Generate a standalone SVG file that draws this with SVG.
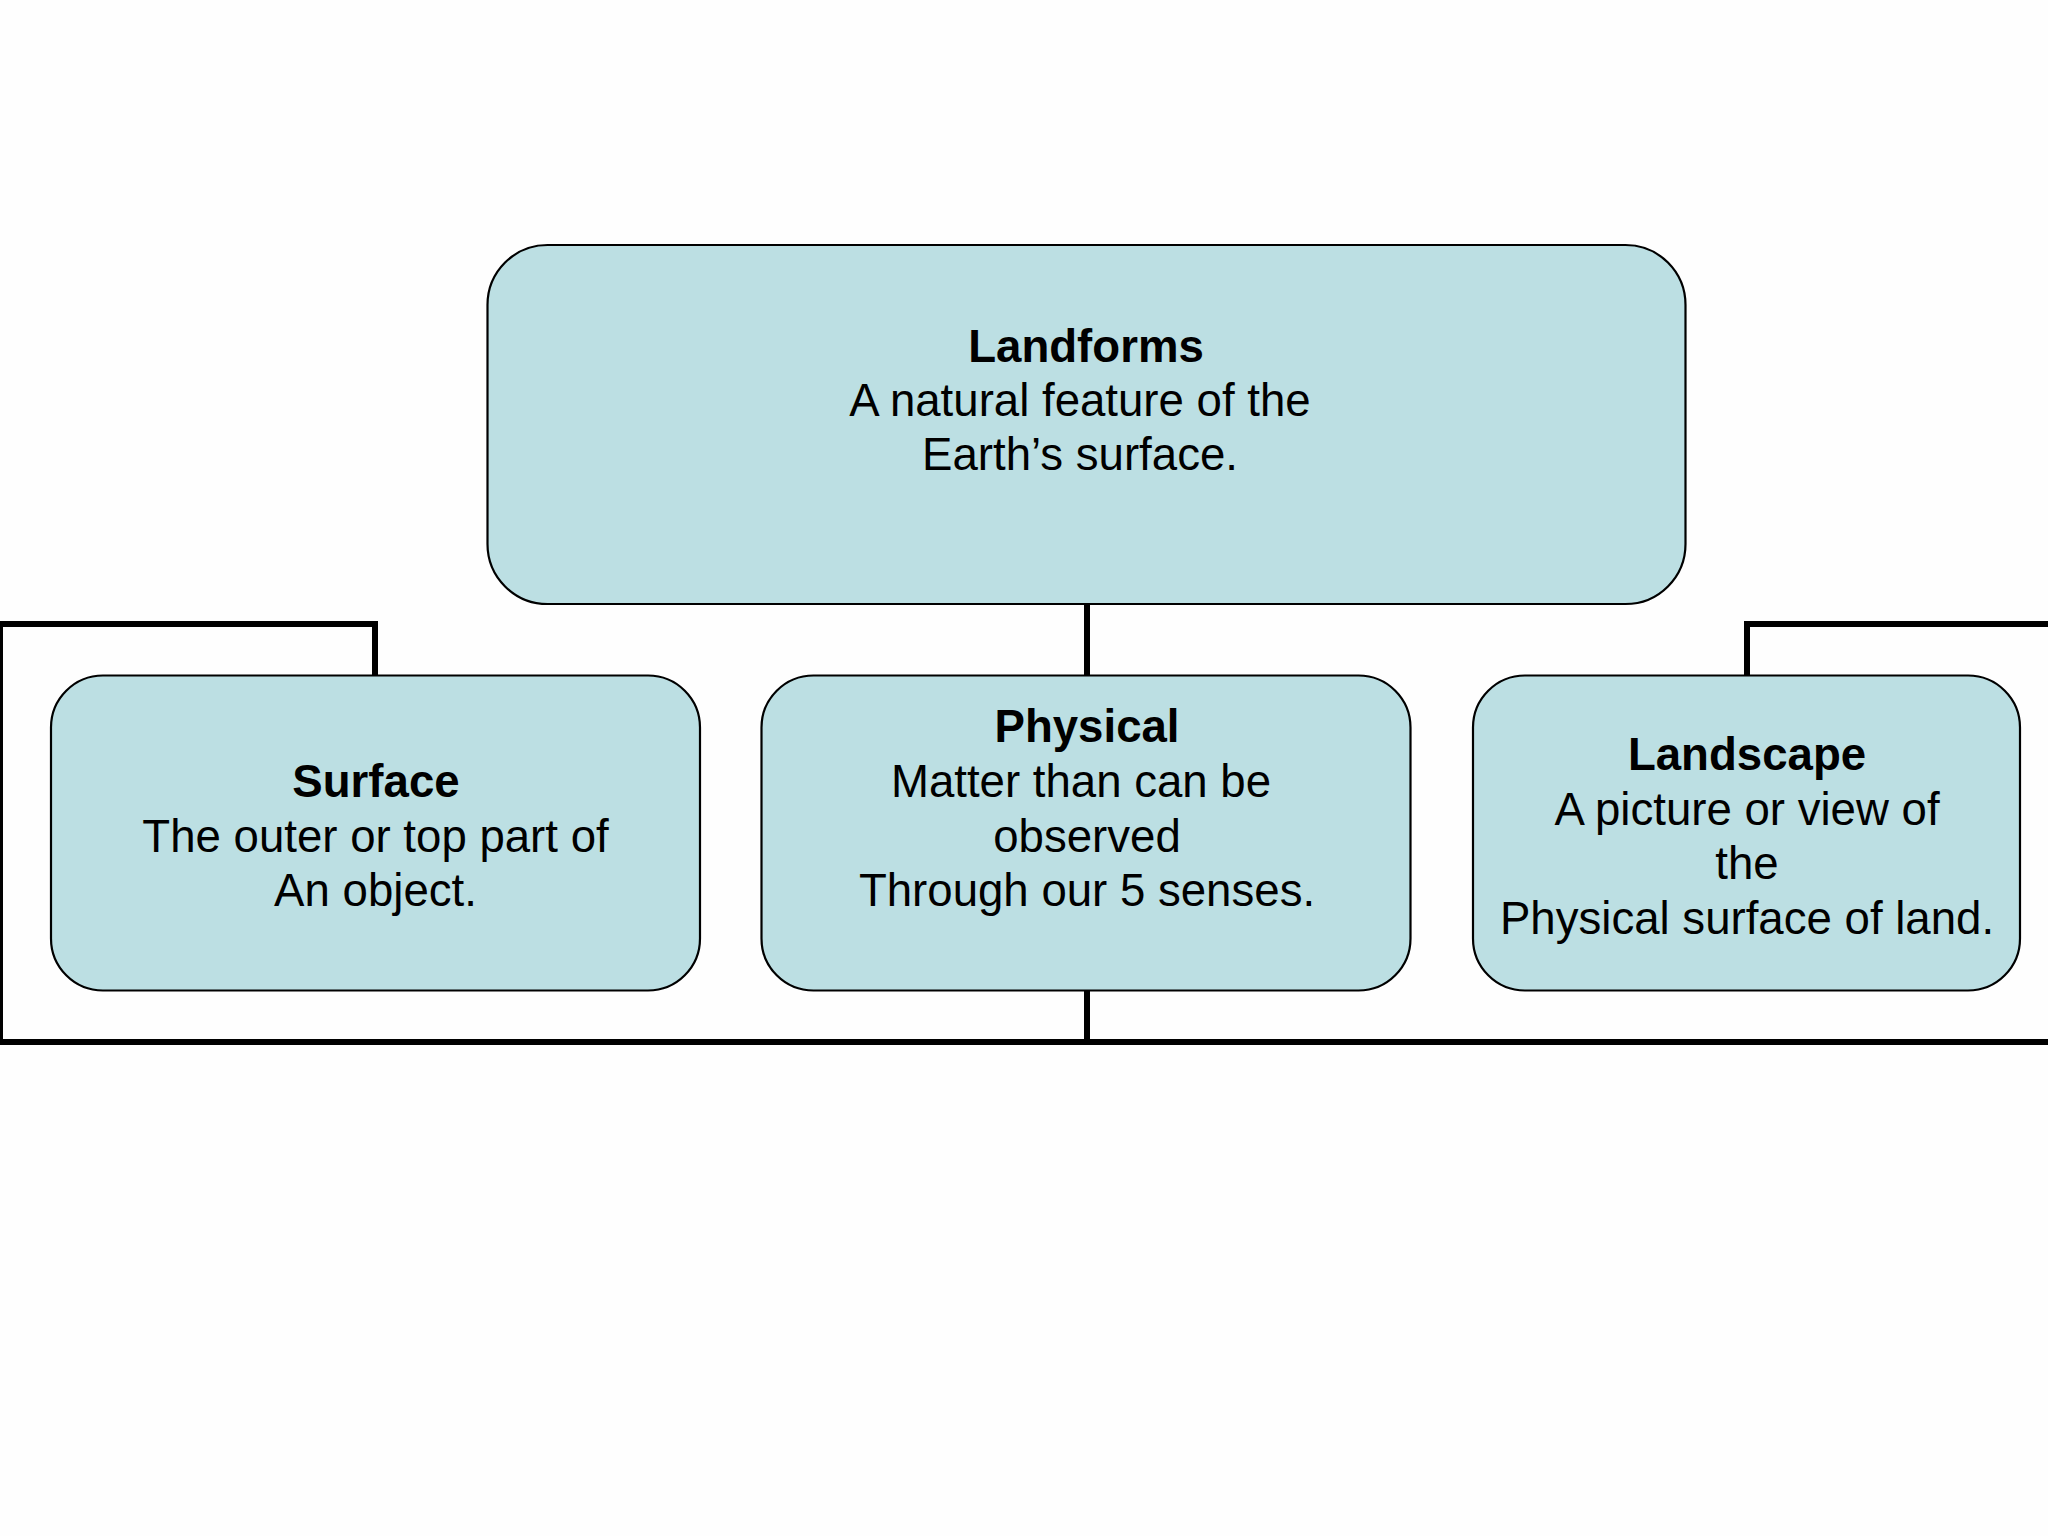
<svg xmlns="http://www.w3.org/2000/svg" width="2048" height="1536" viewBox="0 0 2048 1536">
<style>
.box{fill:#BCDFE3;stroke:#000;stroke-width:2.2}
.conn{fill:none;stroke:#000;stroke-width:6;stroke-linejoin:miter}
text{font-family:"Liberation Sans",Arial,sans-serif;font-size:45.6px;fill:#000;text-anchor:middle}
.t{font-weight:bold}
</style>
<rect width="2048" height="1536" fill="#FEFEFE"/>
<g id="connectors">
<path class="conn" d="M1087 604V675"/>
<path class="conn" d="M375 675V624H0V1042H2048"/>
<path class="conn" d="M1087 990V1042"/>
<path class="conn" d="M1747 675V624H2048"/>
</g>
<g id="landforms">
<rect class="box" x="487.5" y="245" width="1198" height="359" rx="60" ry="60"/>
<text class="t" x="1086" y="362">Landforms</text>
<text x="1080" y="416">A natural feature of the</text>
<text x="1080" y="470">Earth’s surface.</text>
</g>
<g id="surface">
<rect class="box" x="51" y="675.5" width="649" height="315" rx="52" ry="52"/>
<text class="t" x="376" y="797">Surface</text>
<text x="375.5" y="852">The outer or top part of</text>
<text x="375.5" y="906">An object.</text>
</g>
<g id="physical">
<rect class="box" x="761.5" y="675.5" width="649" height="315" rx="52" ry="52"/>
<text class="t" x="1087" y="742">Physical</text>
<text x="1081" y="797">Matter than can be</text>
<text x="1087" y="852">observed</text>
<text x="1087" y="906">Through our 5 senses.</text>
</g>
<g id="landscape">
<rect class="box" x="1473" y="675.5" width="547" height="315" rx="52" ry="52"/>
<text class="t" x="1747" y="770">Landscape</text>
<text x="1747" y="825">A picture or view of</text>
<text x="1747" y="879">the</text>
<text x="1747" y="934">Physical surface of land.</text>
</g>
</svg>
